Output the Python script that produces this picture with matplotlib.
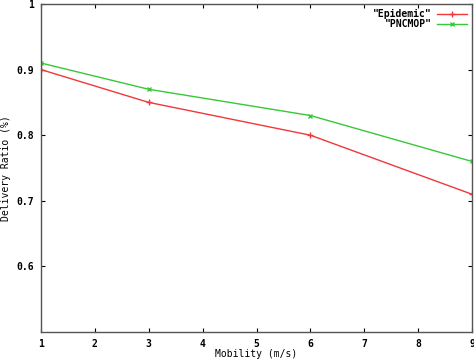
import matplotlib
matplotlib.use('Agg')
import matplotlib.pyplot as plt

# data
mobility = [1, 3, 6, 9]
epidemic = [0.90, 0.85, 0.80, 0.71]
pncmop = [0.91, 0.87, 0.83, 0.76]
x_ticks = [1, 2, 3, 4, 5, 6, 7, 8, 9]
y_ticks = [0.6, 0.7, 0.8, 0.9, 1.0]
y_tick_labels = ['0.6', '0.7', '0.8', '0.9', '1']

plt.rcParams['font.family'] = ['DejaVu Sans Mono']
plt.rcParams['font.weight'] = 'bold'

fig = plt.figure(figsize=(4.74, 3.61), dpi=100)
ax = fig.add_axes([41 / 474, 29 / 361, 431 / 474, 328 / 361])

ax.plot(mobility, epidemic, color='#f03838', lw=1, marker='+', ms=5, mew=1, label='"Epidemic"')
ax.plot(mobility, pncmop, color='#38c838', lw=1, marker='x', ms=3.5, mew=1, label='"PNCMOP"')

ax.set_xlim(1, 9)
ax.set_ylim(0.5, 1.0)
ax.set_xticks(x_ticks)
ax.set_yticks(y_ticks)
ax.set_yticklabels(y_tick_labels)
ax.tick_params(direction='in', top=True, right=True, length=3, labelsize=7, width=0.8)
ax.tick_params(axis='x', pad=5)
ax.tick_params(axis='y', pad=5)
for s in ax.spines.values():
    s.set_color('#555555')
    s.set_linewidth(1)

ax.set_xlabel('Mobility (m/s)', fontsize=7, labelpad=0)
ax.set_ylabel('Delivery Ratio (%)', fontsize=7, labelpad=4)

ax.legend(loc='upper right', frameon=False, markerfirst=False, fontsize=7,
          handlelength=3, borderaxespad=0.15, labelspacing=0.0, handletextpad=0.6)

fig.savefig('out.png', dpi=100)
